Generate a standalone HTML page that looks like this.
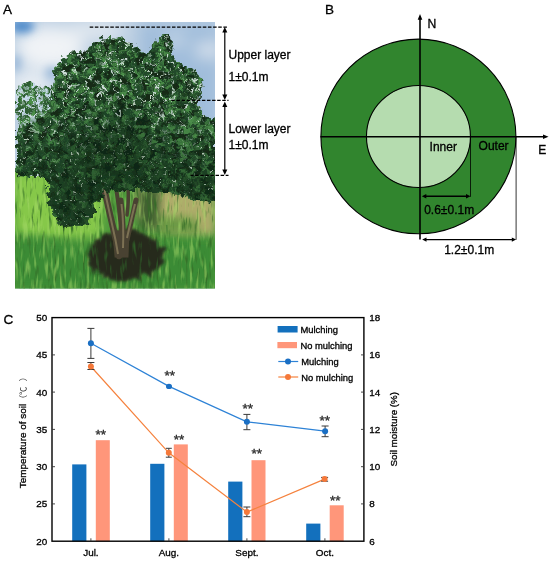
<!DOCTYPE html>
<html><head><meta charset="utf-8">
<style>
html,body{margin:0;padding:0;background:#fff;}
body{width:550px;height:561px;overflow:hidden;position:relative;}
svg{position:absolute;left:0;top:0;}
text{font-family:"Liberation Sans","Noto Sans CJK SC",sans-serif;stroke:#000;stroke-width:0.3px;}
</style></head><body>
<svg width="550" height="561" viewBox="0 0 550 561">
<defs>
<!--PD_START-->
  <clipPath id="photoClip"><rect x="15" y="22" width="200" height="266.5"/></clipPath>
  <clipPath id="canopyClip"><path d="M15 128 L30 122 L45 112 L48 100 L48 87 L52 75 L54 62 L62 55 L71 48.6 L80 50 L86 45 L98 37 L106 34 L113 35 L120 37 L124.5 41 L132 43 L138 47 L142 52 L146 50 L151 43 L157 35 L164.6 31.5 L168.5 37 L170 54 L178 62 L189.5 67.7 L199 75 L201 87 L196 98 L198 110 L206 116 L215 117 L215 201 L205 200 L190 197 L175 192 L170 190 L150 190 L136 188 L120 188 L103 190 L98 196 L93 211 L85 222 L72 223 L60 224 L55 222 L48 205 L46 181 L40 174 L15 173 Z"/></clipPath>
  <clipPath id="smallClip"><path d="M15 86 L22 80 L30 81 L40 85 L50 88 L52 120 L52 174 L15 174 Z"/></clipPath>
  <filter id="b05" x="-20%" y="-20%" width="140%" height="140%"><feGaussianBlur stdDeviation="0.6"/></filter>
  <filter id="b1" x="-20%" y="-20%" width="140%" height="140%"><feGaussianBlur stdDeviation="1"/></filter>
  <filter id="b2" x="-20%" y="-20%" width="140%" height="140%"><feGaussianBlur stdDeviation="2"/></filter>
  <filter id="b4" x="-20%" y="-20%" width="140%" height="140%"><feGaussianBlur stdDeviation="4"/></filter>
  <filter id="b8" x="-20%" y="-20%" width="140%" height="140%"><feGaussianBlur stdDeviation="8"/></filter>
  <linearGradient id="gTop" x1="0" y1="0" x2="0" y2="1" gradientUnits="objectBoundingBox">
    <stop offset="0" stop-color="#fff"/><stop offset="0.35" stop-color="#fff"/><stop offset="0.75" stop-color="#000"/><stop offset="1" stop-color="#000"/>
  </linearGradient>
  <linearGradient id="gDark" x1="0" y1="22" x2="0" y2="232" gradientUnits="userSpaceOnUse">
    <stop offset="0" stop-color="#0f2a14" stop-opacity="0"/><stop offset="0.5" stop-color="#0f2a14" stop-opacity="0"/><stop offset="0.8" stop-color="#0f2a14" stop-opacity="0.35"/><stop offset="1" stop-color="#0f2a14" stop-opacity="0.45"/>
  </linearGradient>
  <radialGradient id="gCenter" cx="112" cy="150" r="62" gradientUnits="userSpaceOnUse">
    <stop offset="0" stop-color="#0c2410" stop-opacity="0.4"/><stop offset="1" stop-color="#0c2410" stop-opacity="0"/>
  </radialGradient>
  <linearGradient id="gSmallTop" x1="0" y1="78" x2="0" y2="178" gradientUnits="userSpaceOnUse">
    <stop offset="0" stop-color="#fff"/><stop offset="0.3" stop-color="#fff"/><stop offset="0.55" stop-color="#000"/><stop offset="1" stop-color="#000"/>
  </linearGradient>
  <mask id="mSmallTop" maskUnits="userSpaceOnUse" x="0" y="0" width="300" height="300"><rect x="15" y="78" width="40" height="100" fill="url(#gSmallTop)"/></mask>
  <mask id="mTop" maskUnits="userSpaceOnUse" x="0" y="0" width="300" height="300"><rect x="15" y="22" width="200" height="200" fill="url(#gTop)"/></mask>
  <linearGradient id="gRight" x1="0" y1="0" x2="1" y2="0">
    <stop offset="0" stop-color="#000"/><stop offset="0.6" stop-color="#000"/><stop offset="0.85" stop-color="#fff"/><stop offset="1" stop-color="#fff"/>
  </linearGradient>
  <mask id="mRight" maskUnits="userSpaceOnUse" x="0" y="0" width="300" height="300"><rect x="15" y="22" width="200" height="200" fill="url(#gRight)"/></mask>
  <filter id="leafHi" color-interpolation-filters="sRGB" filterUnits="userSpaceOnUse" x="0" y="0" width="550" height="561">
    <feTurbulence type="fractalNoise" baseFrequency="0.16" numOctaves="3" seed="4"/>
    <feColorMatrix type="matrix" values="0 0 0 0 0.27  0 0 0 0 0.52  0 0 0 0 0.27  5 0 0 0 -2.55"/>
    <feGaussianBlur stdDeviation="0.6"/>
  </filter>
  <filter id="leafHi2" color-interpolation-filters="sRGB" filterUnits="userSpaceOnUse" x="0" y="0" width="550" height="561">
    <feTurbulence type="fractalNoise" baseFrequency="0.18" numOctaves="3" seed="14"/>
    <feColorMatrix type="matrix" values="0 0 0 0 0.3  0 0 0 0 0.56  0 0 0 0 0.29  5 0 0 0 -2.4"/>
    <feGaussianBlur stdDeviation="0.6"/>
  </filter>
  <filter id="leafDk" color-interpolation-filters="sRGB" filterUnits="userSpaceOnUse" x="0" y="0" width="550" height="561">
    <feTurbulence type="fractalNoise" baseFrequency="0.13" numOctaves="2" seed="9"/>
    <feColorMatrix type="matrix" values="0 0 0 0 0.07  0 0 0 0 0.16  0 0 0 0 0.09  0 5 0 0 -2.3"/>
    <feGaussianBlur stdDeviation="0.6"/>
  </filter>
  <filter id="leafWh" color-interpolation-filters="sRGB" filterUnits="userSpaceOnUse" x="0" y="0" width="550" height="561">
    <feTurbulence type="fractalNoise" baseFrequency="0.3" numOctaves="2" seed="21"/>
    <feColorMatrix type="matrix" values="0 0 0 0 0.78  0 0 0 0 0.85  0 0 0 0 0.78  0 0 9 0 -6.1"/>
    <feGaussianBlur stdDeviation="0.5"/>
  </filter>
  <filter id="leafWh2" color-interpolation-filters="sRGB" filterUnits="userSpaceOnUse" x="0" y="0" width="550" height="561">
    <feTurbulence type="fractalNoise" baseFrequency="0.25" numOctaves="2" seed="31"/>
    <feColorMatrix type="matrix" values="0 0 0 0 0.8  0 0 0 0 0.86  0 0 0 0 0.88  0 0 6 0 -3.3"/>
    <feGaussianBlur stdDeviation="0.5"/>
  </filter>
  <filter id="leafWh3" color-interpolation-filters="sRGB" filterUnits="userSpaceOnUse" x="0" y="0" width="550" height="561">
    <feTurbulence type="fractalNoise" baseFrequency="0.22" numOctaves="2" seed="41"/>
    <feColorMatrix type="matrix" values="0 0 0 0 0.8  0 0 0 0 0.86  0 0 0 0 0.84  0 0 7 0 -4.3"/>
    <feGaussianBlur stdDeviation="0.5"/>
  </filter>
  <filter id="soilGrass" color-interpolation-filters="sRGB" filterUnits="userSpaceOnUse" x="80" y="225" width="90" height="64">
    <feTurbulence type="fractalNoise" baseFrequency="0.25 0.05" numOctaves="2" seed="27"/>
    <feColorMatrix type="matrix" values="0 0 0 0 0.2  0 0 0 0 0.45  0 0 0 0 0.18  4 0 0 0 -2.3"/>
  </filter>
  <filter id="skySpots" color-interpolation-filters="sRGB" filterUnits="userSpaceOnUse" x="0" y="0" width="550" height="561">
    <feTurbulence type="fractalNoise" baseFrequency="0.2" numOctaves="2" seed="51"/>
    <feColorMatrix type="matrix" values="0 0 0 0 0.78  0 0 0 0 0.85  0 0 0 0 0.92  6 0 0 0 -3.0"/>
    <feGaussianBlur stdDeviation="0.6"/>
  </filter>
  <filter id="grassTex" color-interpolation-filters="sRGB" filterUnits="userSpaceOnUse" x="15" y="170" width="200" height="120">
    <feTurbulence type="fractalNoise" baseFrequency="0.35 0.06" numOctaves="2" seed="7"/>
    <feColorMatrix type="matrix" values="0 0 0 0 0.2  0 0 0 0 0.42  0 0 0 0 0.15  3.5 0 0 0 -1.95"/>
  </filter>
  <filter id="grassLt" color-interpolation-filters="sRGB" filterUnits="userSpaceOnUse" x="15" y="170" width="200" height="120">
    <feTurbulence type="fractalNoise" baseFrequency="0.3 0.05" numOctaves="2" seed="17"/>
    <feColorMatrix type="matrix" values="0 0 0 0 0.66  0 0 0 0 0.86  0 0 0 0 0.42  0 4 0 0 -2.0"/>
  </filter>

  <filter id="leafEdge" filterUnits="userSpaceOnUse" x="0" y="0" width="300" height="300">
    <feTurbulence type="turbulence" baseFrequency="0.12" numOctaves="2" seed="5" result="t"/>
    <feDisplacementMap in="SourceGraphic" in2="t" scale="9" xChannelSelector="R" yChannelSelector="G"/>
  </filter>
  <filter id="leafEdge2" filterUnits="userSpaceOnUse" x="0" y="0" width="300" height="300">
    <feTurbulence type="turbulence" baseFrequency="0.14" numOctaves="2" seed="8" result="t"/>
    <feDisplacementMap in="SourceGraphic" in2="t" scale="8" xChannelSelector="R" yChannelSelector="G"/>
  </filter>
  <filter id="soilEdge" filterUnits="userSpaceOnUse" x="0" y="0" width="300" height="300">
    <feTurbulence type="turbulence" baseFrequency="0.08" numOctaves="2" seed="12" result="t"/>
    <feDisplacementMap in="SourceGraphic" in2="t" scale="14" xChannelSelector="R" yChannelSelector="G" result="d"/>
    <feGaussianBlur in="d" stdDeviation="1.5"/>
  </filter>
<!--PD_END-->
</defs>

<!-- ============ PANEL A : photo ============ -->
<!--P_START-->
<g id="photo" clip-path="url(#photoClip)">
  <!-- sky base -->
  <rect x="15" y="22" width="200" height="267" fill="#bccfe2"/>
  <g filter="url(#b8)">
    <rect x="140" y="22" width="80" height="110" fill="#a0bddb"/>
    <ellipse cx="50" cy="48" rx="34" ry="22" fill="#f0f3f6"/>
    <ellipse cx="95" cy="30" rx="30" ry="9" fill="#e2e9f0"/>
    <ellipse cx="30" cy="84" rx="22" ry="12" fill="#eaeff4"/>
    <ellipse cx="208" cy="50" rx="12" ry="7" fill="#e0e8f0"/>
    <ellipse cx="175" cy="40" rx="12" ry="6" fill="#c9d9e8"/>
  </g>
  <g filter="url(#b4)">
    <ellipse cx="22" cy="26" rx="12" ry="7" fill="#4f8bcb"/>
    <ellipse cx="16" cy="63" rx="4" ry="8" fill="#8fb1d6"/>
    <ellipse cx="52" cy="73" rx="7" ry="6" fill="#9bb9d9"/>
  </g>
  <!-- grass layers -->
  <rect x="15" y="170" width="200" height="120" fill="#4f9a3c"/>
  <path d="M15 172 L100 172 L104 190 L100 236 L60 238 L15 232 Z" fill="#86c84a" filter="url(#b4)"/>
  <path d="M136 186 L215 190 L215 236 L180 234 L150 226 L136 215 Z" fill="#aeac6a" filter="url(#b4)"/>
  <path d="M150 214 L195 218 L200 234 L160 234 Z" fill="#6c9a44" filter="url(#b4)"/>
  <path d="M138 186 L160 188 L158 228 L140 232 Z" fill="#3d5f2e" filter="url(#b4)"/>
  <path d="M15 238 L60 240 L100 250 L170 240 L215 238 L215 289 L15 289 Z" fill="#3b8b36" filter="url(#b4)"/>
  <rect x="15" y="170" width="200" height="120" fill="#fff" filter="url(#grassTex)"/>
  <rect x="15" y="170" width="200" height="120" fill="#fff" filter="url(#grassLt)" opacity="0.5"/>
  <!-- soil -->
  <g filter="url(#soilEdge)">
    <ellipse cx="123" cy="252" rx="39" ry="25" fill="#272a1d"/>
  </g>
  <rect x="80" y="225" width="90" height="64" fill="#fff" filter="url(#soilGrass)" opacity="0.75"/>
  <!-- trunk stems -->
  <g stroke="#4a4330" stroke-linecap="round" fill="none" filter="url(#b05)">
    <path d="M104 188 Q110 215 116 240 L119 256" stroke-width="6.5"/>
    <path d="M116 188 Q119 205 121 230" stroke-width="4"/>
    <path d="M121 200 Q124 225 123 250" stroke-width="5"/>
    <path d="M136 200 Q132 218 127 240" stroke-width="5"/>
    <path d="M128 188 Q129 200 127 215" stroke-width="3.5"/>
    <path d="M114 232 L128 232 L127 256 L116 256 Z" stroke-width="3" fill="#4a4330"/>
  </g>
  <g stroke="#85795a" stroke-width="2" fill="none" opacity="0.85" filter="url(#b05)">
    <path d="M104.5 190 Q110 215 115.5 240 L118 254"/>
    <path d="M121.5 204 Q124 225 123 248"/>
    <path d="M135 204 Q131.5 218 127 238"/>
  </g>
  <!-- left small tree -->
  <g filter="url(#leafEdge2)">
  <path d="M15 86 L22 80 L30 81 L40 85 L50 88 L52 120 L52 174 L15 174 Z" fill="#2f5d31" filter="url(#b05)"/>
  <g clip-path="url(#smallClip)">
    <rect x="15" y="78" width="40" height="100" fill="#fff" filter="url(#leafHi2)"/>
    <rect x="15" y="78" width="40" height="100" fill="#fff" filter="url(#leafWh2)"/>
    <rect x="15" y="78" width="40" height="100" fill="#fff" filter="url(#skySpots)" mask="url(#mSmallTop)"/>
  </g>
  </g>
  <!-- main canopy -->
  <g filter="url(#leafEdge)">
  <path filter="url(#b05)" fill="#24482b" d="M15 128 L30 122 L45 112 L48 100 L48 87 L52 75 L54 62 L62 55 L71 48.6 L80 50 L86 45 L98 37 L106 34 L113 35 L120 37 L124.5 41 L132 43 L138 47 L142 52 L146 50 L151 43 L157 35 L164.6 31.5 L168.5 37 L170 54 L178 62 L189.5 67.7 L199 75 L201 87 L196 98 L198 110 L206 116 L215 117 L215 201 L205 200 L190 197 L175 192 L170 190 L150 190 L136 188 L120 188 L103 190 L98 196 L93 211 L85 222 L72 223 L60 224 L55 222 L48 205 L46 181 L40 174 L15 173 Z"/>
  <g clip-path="url(#canopyClip)">
    <rect x="15" y="22" width="200" height="210" fill="#fff" filter="url(#leafHi)"/>
    <rect x="15" y="22" width="200" height="210" fill="#fff" filter="url(#leafHi2)" mask="url(#mTop)"/>
    <rect x="15" y="22" width="200" height="210" fill="#fff" filter="url(#leafHi2)" mask="url(#mRight)" opacity="0.7"/>
    <rect x="15" y="22" width="200" height="210" fill="#fff" filter="url(#leafDk)"/>
    <rect x="15" y="22" width="200" height="210" fill="#fff" filter="url(#leafWh)"/>
    <rect x="15" y="22" width="200" height="210" fill="#fff" filter="url(#leafWh3)" mask="url(#mTop)"/>
    <rect x="15" y="22" width="200" height="210" fill="url(#gDark)"/>
    <rect x="15" y="22" width="200" height="210" fill="url(#gCenter)"/>
  </g>
  </g>
</g>
<!--P_END-->
<!-- annotations panel A -->
<text x="2.9" y="14.2" font-size="13.5">A</text>
<g stroke="#000" stroke-width="1.2" fill="none">
  <line x1="89.5" y1="27.1" x2="228.5" y2="27.1" stroke-dasharray="3.55 1.59" stroke-dashoffset="-0.22"/>
  <line x1="170" y1="100.3" x2="228.5" y2="100.3" stroke-dasharray="3.5 1.59" stroke-dashoffset="-1.35"/>
  <line x1="190.5" y1="175.3" x2="228.5" y2="175.3" stroke-dasharray="3.5 1.59" stroke-dashoffset="-4.64"/>
  <line x1="224.8" y1="30" x2="224.8" y2="97.5"/>
  <line x1="224.8" y1="104" x2="224.8" y2="172.5"/>
</g>
<g fill="#000">
  <path d="M224.8 27 L222.3 32.5 L227.3 32.5 Z"/>
  <path d="M224.8 100 L222.3 94.5 L227.3 94.5 Z"/>
  <path d="M224.8 101.5 L222.3 107 L227.3 107 Z"/>
  <path d="M224.8 175 L222.3 169.5 L227.3 169.5 Z"/>
</g>
<g font-size="12" fill="#000">
  <text x="228.5" y="58.9">Upper layer</text>
  <text x="228.5" y="80.7">1±0.1m</text>
  <text x="228.5" y="132.5">Lower layer</text>
  <text x="228.5" y="149.3">1±0.1m</text>
</g>

<!-- ============ PANEL B ============ -->
<text x="325" y="14.2" font-size="13.5">B</text>
<ellipse cx="418.4" cy="136.45" rx="97.5" ry="97.35" fill="#31852e" stroke="#000" stroke-width="1.1"/>
<ellipse cx="418.45" cy="136.5" rx="52" ry="51" fill="#b5dcaf" stroke="#000" stroke-width="1.1"/>
<g stroke="#000" stroke-width="1.6" fill="none">
  <line x1="420" y1="18" x2="420" y2="239.5"/>
  <line x1="320.5" y1="136.7" x2="544" y2="136.7"/>
</g>
<g stroke="#000" stroke-width="0.8" fill="none">
  <line x1="470.5" y1="137" x2="470.5" y2="196.8"/>
  <line x1="516.1" y1="137" x2="516.1" y2="239.8"/>
</g>
<g stroke="#000" stroke-width="1.4">
  <line x1="425" y1="196.2" x2="467" y2="196.2"/>
  <line x1="425" y1="239.6" x2="513" y2="239.6"/>
</g>
<g fill="#000">
  <path d="M420 14 L417.7 19.8 L422.3 19.8 Z"/>
  <path d="M548.5 136.7 L543 134.4 L543 139 Z"/>
  <path d="M421.8 196.2 L426.3 193.9 L426.3 198.5 Z"/>
  <path d="M470.5 196.2 L466 193.9 L466 198.5 Z"/>
  <path d="M422.2 239.6 L426.5 237.4 L426.5 241.8 Z"/>
  <path d="M516.1 239.6 L511.8 237.4 L511.8 241.8 Z"/>
</g>
<g font-size="12" fill="#000">
  <text x="427.6" y="27.6" font-size="12.2">N</text>
  <text x="538.3" y="153.8" font-size="12">E</text>
  <text x="429.6" y="150.6">Inner</text>
  <text x="478.6" y="150.4">Outer</text>
  <text x="424.2" y="214">0.6±0.1m</text>
  <text x="444.2" y="253.8">1.2±0.1m</text>
</g>

<!-- ============ PANEL C ============ -->
<text x="3.4" y="323.9" font-size="13.6">C</text>
<!-- bars -->
<g>
  <rect x="72.2" y="464.4" width="14.2" height="77" fill="#1370bd"/>
  <rect x="95.8" y="440.2" width="14" height="101.2" fill="#ff967a"/>
  <rect x="150.2" y="463.8" width="14.2" height="77.6" fill="#1370bd"/>
  <rect x="173.8" y="444.4" width="14" height="97" fill="#ff967a"/>
  <rect x="228.2" y="481.6" width="14.2" height="59.8" fill="#1370bd"/>
  <rect x="251.5" y="460.2" width="14" height="81.2" fill="#ff967a"/>
  <rect x="306.2" y="523.6" width="14.2" height="17.8" fill="#1370bd"/>
  <rect x="329.7" y="505.3" width="14" height="36.1" fill="#ff967a"/>
</g>
<!-- axes -->
<g stroke="#000" stroke-width="1.4" fill="none">
  <rect x="52" y="317.6" width="311.9" height="223.6"/>
</g>
<g stroke="#333" stroke-width="0.9">
  <line x1="52" y1="354.9" x2="55" y2="354.9"/>
  <line x1="361" y1="354.9" x2="363.9" y2="354.9"/>
  <line x1="52" y1="392.1" x2="55" y2="392.1"/>
  <line x1="361" y1="392.1" x2="363.9" y2="392.1"/>
  <line x1="52" y1="429.4" x2="55" y2="429.4"/>
  <line x1="361" y1="429.4" x2="363.9" y2="429.4"/>
  <line x1="52" y1="466.7" x2="55" y2="466.7"/>
  <line x1="361" y1="466.7" x2="363.9" y2="466.7"/>
  <line x1="52" y1="503.9" x2="55" y2="503.9"/>
  <line x1="361" y1="503.9" x2="363.9" y2="503.9"/>
  <line x1="90.9" y1="541.2" x2="90.9" y2="538.3"/>
  <line x1="168.9" y1="541.2" x2="168.9" y2="538.3"/>
  <line x1="246.9" y1="541.2" x2="246.9" y2="538.3"/>
  <line x1="324.9" y1="541.2" x2="324.9" y2="538.3"/>
</g>
<g font-size="9.9" fill="#000" text-anchor="end">
  <text x="47.3" y="321.1">50</text>
  <text x="47.3" y="358.4">45</text>
  <text x="47.3" y="395.6">40</text>
  <text x="47.3" y="432.9">35</text>
  <text x="47.3" y="470.2">30</text>
  <text x="47.3" y="507.4">25</text>
  <text x="47.3" y="544.7">20</text>
</g>
<g font-size="9.9" fill="#000">
  <text x="369.2" y="321.1">18</text>
  <text x="369.2" y="358.4">16</text>
  <text x="369.2" y="395.6">14</text>
  <text x="369.2" y="432.9">12</text>
  <text x="369.2" y="470.2">10</text>
  <text x="369.2" y="507.4">8</text>
  <text x="369.2" y="544.7">6</text>
</g>
<g font-size="9.9" fill="#000" text-anchor="middle">
  <text x="90.9" y="555.5">Jul.</text>
  <text x="168.9" y="555.5">Aug.</text>
  <text x="246.9" y="555.5">Sept.</text>
  <text x="324.9" y="555.5">Oct.</text>
</g>
<text transform="translate(26.4,488.3) rotate(-90)" font-size="9.95" fill="#000">Temperature of soil<tspan dx="0.5" font-size="8.4" fill="#222" style="stroke:none" font-family="'Noto Sans CJK SC',sans-serif">（℃</tspan><tspan dx="5.3" font-size="8.4" fill="#222" style="stroke:none" font-family="'Noto Sans CJK SC',sans-serif">）</tspan></text>
<text transform="translate(397,466.5) rotate(-90)" font-size="9.8" fill="#000">Soil moisture (%)</text>

<!-- lines -->
<polyline points="90.9,343.2 169,386.4 246.9,421.8 325.1,431.2" fill="none" stroke="#2d82d6" stroke-width="1.2"/>
<polyline points="90.9,366.5 168.8,452.8 246.9,512.1 324.6,479.1" fill="none" stroke="#f5823e" stroke-width="1.2"/>
<!-- error bars -->
<g stroke="#3a3a3a" stroke-width="1">
  <line x1="90.9" y1="328.4" x2="90.9" y2="358.4"/><line x1="87.4" y1="328.4" x2="94.4" y2="328.4"/><line x1="87.4" y1="358.4" x2="94.4" y2="358.4"/>
  <line x1="90.9" y1="362.5" x2="90.9" y2="369.5"/><line x1="87.4" y1="362.5" x2="94.4" y2="362.5"/><line x1="87.4" y1="369.5" x2="94.4" y2="369.5"/>
  <line x1="168.8" y1="448.3" x2="168.8" y2="457.2"/><line x1="165.8" y1="448.3" x2="171.8" y2="448.3"/><line x1="165.8" y1="457.2" x2="171.8" y2="457.2"/>
  <line x1="246.9" y1="414.4" x2="246.9" y2="429.7"/><line x1="243.4" y1="414.4" x2="250.4" y2="414.4"/><line x1="243.4" y1="429.7" x2="250.4" y2="429.7"/>
  <line x1="246.9" y1="507" x2="246.9" y2="516.7"/><line x1="243.4" y1="507" x2="250.4" y2="507"/><line x1="243.4" y1="516.7" x2="250.4" y2="516.7"/>
  <line x1="324.6" y1="477.4" x2="324.6" y2="481.2"/><line x1="321.1" y1="477.4" x2="328.1" y2="477.4"/><line x1="321.1" y1="481.2" x2="328.1" y2="481.2"/>
  <line x1="325.1" y1="426" x2="325.1" y2="436.7"/><line x1="321.6" y1="426" x2="328.6" y2="426"/><line x1="321.6" y1="436.7" x2="328.6" y2="436.7"/>
</g>
<!-- dots -->
<g fill="#1a6fc4">
  <ellipse cx="90.9" cy="343.2" rx="3" ry="3"/>
  <ellipse cx="169" cy="386.4" rx="3" ry="2.6"/>
  <ellipse cx="246.9" cy="421.8" rx="3" ry="3"/>
  <ellipse cx="325.1" cy="431.2" rx="3" ry="3"/>
</g>
<g fill="#f5793a">
  <ellipse cx="90.9" cy="366.4" rx="3" ry="3"/>
  <ellipse cx="168.8" cy="452.8" rx="3" ry="3"/>
  <ellipse cx="246.9" cy="512.1" rx="3" ry="3"/>
  <ellipse cx="324.6" cy="479.1" rx="3" ry="3"/>
</g>
<!-- asterisks -->
<g font-size="13.5" fill="#454545" text-anchor="middle" style="stroke:#454545;stroke-width:0.2px">
  <text x="100.7" y="438.6">**</text>
  <text x="169.7" y="380.1">**</text>
  <text x="179" y="444.4">**</text>
  <text x="247.8" y="413.3">**</text>
  <text x="256.8" y="457.7">**</text>
  <text x="324.8" y="424.9">**</text>
  <text x="335.3" y="504.9">**</text>
</g>
<!-- legend -->
<rect x="277.6" y="326" width="20" height="6.5" fill="#1370bd"/>
<rect x="277.4" y="342" width="19.6" height="6.2" fill="#ff967a"/>
<line x1="278.3" y1="361.5" x2="298.2" y2="361.5" stroke="#2d82d6" stroke-width="1.2"/>
<circle cx="288" cy="361.5" r="3" fill="#1a6fc4"/>
<line x1="278.3" y1="377" x2="298.2" y2="377" stroke="#f5823e" stroke-width="1.2"/>
<circle cx="288" cy="377" r="3" fill="#f5793a"/>
<g font-size="9.4" fill="#000">
  <text x="300.4" y="333">Mulching</text>
  <text x="300.4" y="349.3">No mulching</text>
  <text x="301.2" y="364.9">Mulching</text>
  <text x="301.2" y="381">No mulching</text>
</g>
</svg>
</body></html>
